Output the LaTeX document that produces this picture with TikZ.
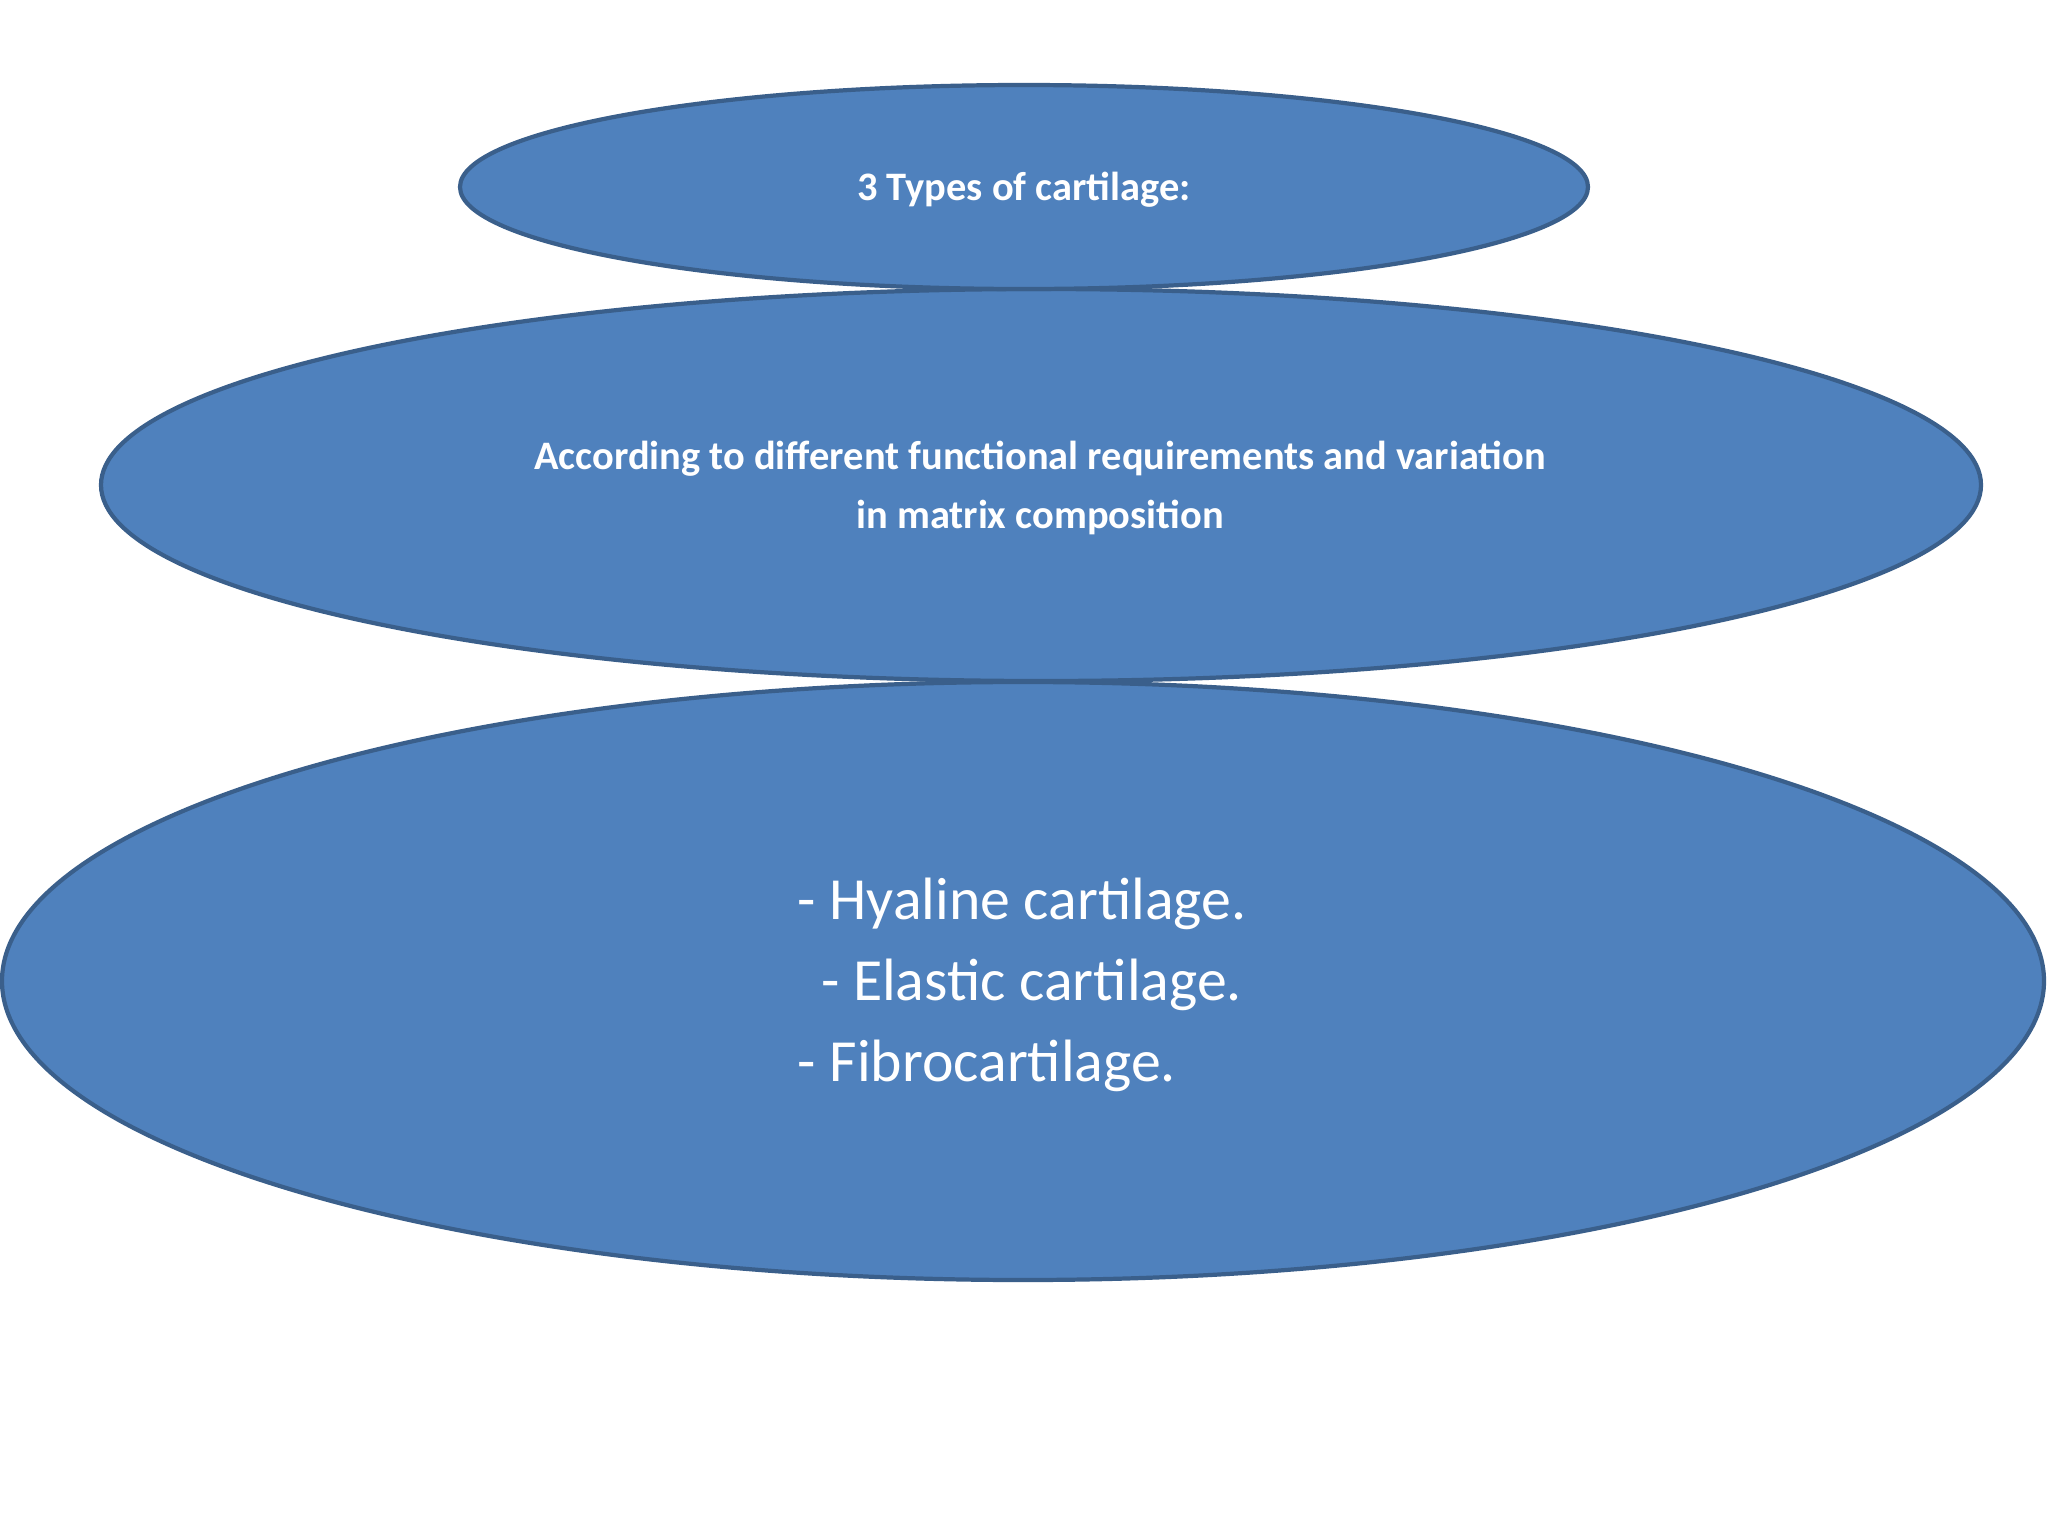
\documentclass[tikz,border=0pt]{standalone}
\usepackage{fontspec}
\setmainfont{Carlito}
\definecolor{fillb}{HTML}{4F81BD}
\definecolor{edgeb}{HTML}{3A5F8B}
\begin{document}
\begin{tikzpicture}[x=0.01cm,y=-0.01cm,
  ell/.style={fill=fillb,draw=edgeb,line width=1.2pt}]
\useasboundingbox (0,0) rectangle (2048,1536);
\fill[white] (0,0) rectangle (2048,1536);
\draw[ell] (1023,981) ellipse [x radius=1021, y radius=299];
\draw[ell] (1041,485) ellipse [x radius=940, y radius=196];
\draw[ell] (1024,187) ellipse [x radius=564, y radius=102];
\node[text=white,font=\bfseries\fontsize{11.5}{14}\selectfont] (t1) at (1024,190) {3 Types of cartilage:};
\node[text=white,font=\bfseries\fontsize{11.5}{17}\selectfont,align=center] (t2) at (1040,488) {According to different functional requirements and variation\\in matrix composition};
\node[text=white,font=\fontsize{17}{23}\selectfont,align=left] (t3) at (1022,985) {- Hyaline cartilage.\\\ \,- Elastic cartilage.\\- Fibrocartilage.};
\end{tikzpicture}
\end{document}
